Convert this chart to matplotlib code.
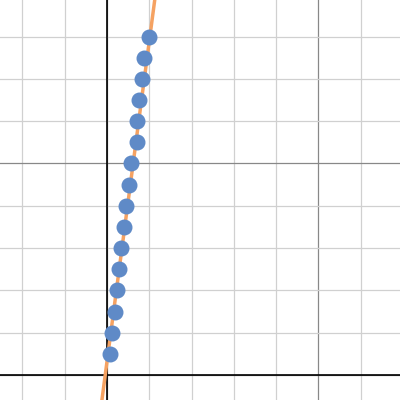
import matplotlib
matplotlib.use("Agg")
import matplotlib.pyplot as plt
import numpy as np

ys = [0.5,1,1.5,2,2.5,3,3.5,4,4.5,5,5.5,6,6.5,7,7.5,8]
xs = [0.07,0.12,0.19,0.24,0.28,0.33,0.40,0.45,0.52,0.57,0.71,0.71,0.76,0.83,0.88,0.99]
fit_a, fit_b = -0.042, 0.132  # x = a + b*y

u = 42.3
fig = plt.figure(figsize=(4,4), dpi=100)
ax = fig.add_axes([0,0,1,1])
x0, x1 = -107/u, 293/u
y0, y1 = -25/u, 375/u
ax.set_xlim(x0, x1); ax.set_ylim(y0, y1)
for v in range(-3, 8):
    c = '#888888' if v % 5 == 0 else '#d0d0d0'
    ax.axvline(v, color=c, lw=0.9, zorder=0)
for v in range(-1, 10):
    c = '#888888' if v % 5 == 0 else '#d0d0d0'
    ax.axhline(v, color=c, lw=0.9, zorder=0)
ax.axhline(0, color='black', lw=1.2, zorder=1)
ax.axvline(0, color='black', lw=1.2, zorder=1)
yl = np.array([y0, y1])
ax.plot(fit_a + fit_b*yl, yl, color='#f5a262', lw=2.5, zorder=2)
ax.scatter(xs, ys, s=110, color='#5f8ac7', zorder=3)
ax.set_xticks([]); ax.set_yticks([])
for s in ax.spines.values(): s.set_visible(False)
fig.savefig("out.png", dpi=100)
